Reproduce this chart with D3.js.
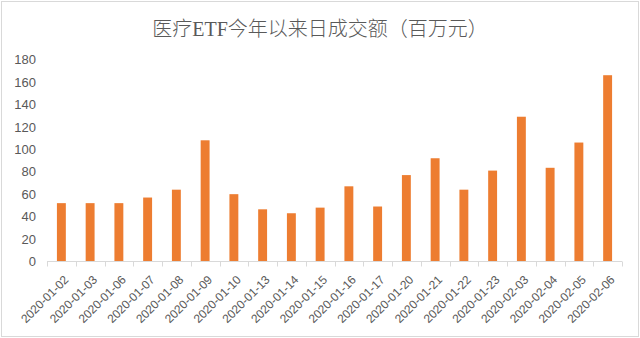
<!DOCTYPE html>
<html>
<head>
<meta charset="utf-8">
<script src="https://cdn.jsdelivr.net/npm/d3@7"></script>
<style>
  body { margin: 0; background: #fff; }
  svg { display: block; }
</style>
</head>
<body>
<div id="chart"></div>
<script>
var dates = ['2020-01-02', '2020-01-03', '2020-01-06', '2020-01-07', '2020-01-08',
    '2020-01-09', '2020-01-10', '2020-01-13', '2020-01-14', '2020-01-15',
    '2020-01-16', '2020-01-17', '2020-01-20', '2020-01-21', '2020-01-22',
    '2020-01-23', '2020-02-03', '2020-02-04', '2020-02-05', '2020-02-06'];
var turnover = [52, 52, 52, 57, 64, 108, 60, 46.5, 43, 48,
    67, 49, 77, 92, 64, 81, 129, 83.5, 106, 166];
var yTicks = [0, 20, 40, 60, 80, 100, 120, 140, 160, 180];
var title = '医疗ETF今年以来日成交额（百万元）';

var width = 640;
var height = 338;
var margin = {top: 59.5, right: 18, bottom: 76.5, left: 47};

var svg = d3.select('#chart').append('svg')
    .attr('width', width)
    .attr('height', height);

// outer frame
svg.append('rect')
    .attr('x', 1.5)
    .attr('y', 1.5)
    .attr('width', width - 3)
    .attr('height', height - 3)
    .attr('fill', '#fff')
    .attr('stroke', '#d9d9d9');

svg.append('text')
    .attr('x', width / 2)
    .attr('y', 36)
    .attr('text-anchor', 'middle')
    .attr('fill', '#595959')
    .style('font-family', '"Liberation Serif", "Noto Sans CJK SC", serif')
    .style('font-weight', 300)
    .style('font-size', '20px')
    .text(title);

var x = d3.scaleBand()
    .domain(dates)
    .range([margin.left, width - margin.right])
    .paddingInner(0.69)
    .paddingOuter(0.345);

var y = d3.scaleLinear()
    .domain([0, 180])
    .range([height - margin.bottom, margin.top]);

// y labels, no axis line
var yAxis = svg.append('g')
    .attr('transform', 'translate(' + (margin.left - 11) + ',0)')
    .call(d3.axisLeft(y).tickValues(yTicks).tickSize(0).tickPadding(0));
yAxis.select('.domain').remove();
yAxis.selectAll('text')
    .attr('fill', '#595959')
    .style('font-family', '"Liberation Sans", Arial, sans-serif')
    .style('font-size', '13px');

svg.append('g')
    .selectAll('rect')
    .data(turnover)
    .enter().append('rect')
    .attr('x', function(d, i) {
        return x(dates[i]);
    })
    .attr('y', function(d) {
        return y(d);
    })
    .attr('width', x.bandwidth())
    .attr('height', function(d) {
        return y(0) - y(d);
    })
    .attr('fill', '#ed7d31');

// x axis with ticks between categories
var step = x.step();
var xAxis = svg.append('g')
    .attr('transform', 'translate(0,' + y(0) + ')');
xAxis.append('line')
    .attr('x1', margin.left)
    .attr('x2', width - margin.right)
    .attr('stroke', '#d9d9d9');
xAxis.selectAll('.tick-mark')
    .data(d3.range(dates.length + 1))
    .enter().append('line')
    .attr('class', 'tick-mark')
    .attr('x1', function(i) {
        return Math.round(margin.left + i * step) + 0.5;
    })
    .attr('x2', function(i) {
        return Math.round(margin.left + i * step) + 0.5;
    })
    .attr('y1', 0)
    .attr('y2', 5)
    .attr('stroke', '#d9d9d9');
xAxis.selectAll('.label')
    .data(dates)
    .enter().append('text')
    .attr('class', 'label')
    .attr('transform', function(d) {
        return 'translate(' + (x(d) + x.bandwidth() / 2 + 2) + ',13) rotate(-45)';
    })
    .attr('text-anchor', 'end')
    .attr('dy', '0.7em')
    .attr('fill', '#595959')
    .style('font-family', '"Liberation Sans", Arial, sans-serif')
    .style('font-size', '12px')
    .text(function(d) {
        return d;
    });
</script>
</body>
</html>
